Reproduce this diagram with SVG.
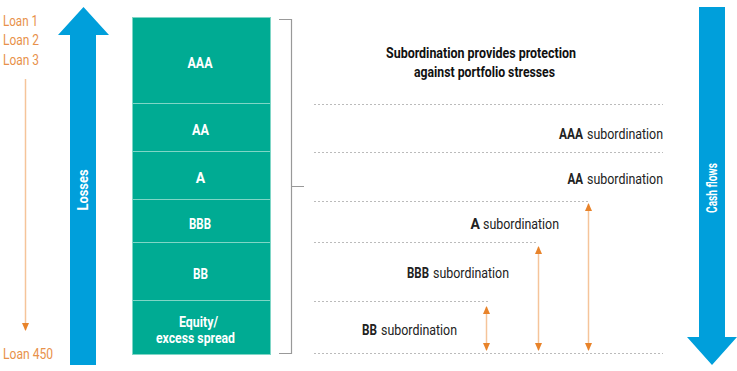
<svg xmlns="http://www.w3.org/2000/svg" width="737" height="371" viewBox="0 0 737 371">
<style>
.loan{font-family:Roboto,"Liberation Sans",sans-serif;font-size:14px;fill:#E8914A}
.tr{font-family:Roboto,"Liberation Sans",sans-serif;font-size:14px;font-weight:bold;fill:#fff;text-anchor:middle}
.lbl{font-family:Roboto,"Liberation Sans",sans-serif;font-size:14px;fill:#222;text-anchor:end}
.lb{font-family:Roboto,"Liberation Sans",sans-serif;font-size:14px;font-weight:bold;fill:#222;text-anchor:end}
.ttl{font-family:Roboto,"Liberation Sans",sans-serif;font-size:14.5px;font-weight:bold;fill:#111;text-anchor:middle}
.tranche{fill:#00AB93;stroke:#7FD6C6;stroke-width:1}
.dot{stroke:#BBBBBB;stroke-width:1;stroke-dasharray:2 2;fill:none}
.dim{stroke:#F5C49A;stroke-width:1.5;fill:none;marker-start:url(#ah);marker-end:url(#ah)}
.blue{fill:#009FDB}
.arrtxt{font-family:Roboto,"Liberation Sans",sans-serif;font-size:14px;font-weight:bold;fill:#fff;text-anchor:middle}
</style>
<defs>
<marker id="ah" viewBox="0 0 8 8" refX="7" refY="4" markerWidth="8" markerHeight="8" markerUnits="userSpaceOnUse" orient="auto-start-reverse">
<path d="M0,0.5 L8,4 L0,7.5 Z" fill="#E8832A"/>
</marker>
</defs>

<g id="loans">
<text class="loan" x="3" y="26" textLength="35" lengthAdjust="spacingAndGlyphs">Loan 1</text>
<text class="loan" x="3" y="45" textLength="36" lengthAdjust="spacingAndGlyphs">Loan 2</text>
<text class="loan" x="3" y="65" textLength="36" lengthAdjust="spacingAndGlyphs">Loan 3</text>
<text class="loan" x="3" y="359" textLength="50" lengthAdjust="spacingAndGlyphs">Loan 450</text>
</g>

<g id="losses-arrow">
<polygon class="blue" points="70,365 96,365 96,35 109,35 83.5,7 58,35 70,35"/>
<text class="arrtxt" transform="translate(88,190) rotate(-90)" textLength="41" lengthAdjust="spacingAndGlyphs">Losses</text>
</g>

<g id="cashflows-arrow">
<polygon class="blue" points="699,7 725,7 725,337 737,337 712,365 687,337 699,337"/>
<text class="arrtxt" transform="translate(717,188) rotate(-90)" textLength="50" lengthAdjust="spacingAndGlyphs">Cash flows</text>
</g>

<g id="tranche-AAA"><rect class="tranche" x="132.5" y="17.5" width="138" height="86"/><text class="tr" x="200" y="68" textLength="25" lengthAdjust="spacingAndGlyphs">AAA</text></g>
<g id="tranche-AA"><rect class="tranche" x="132.5" y="103.5" width="138" height="48"/><text class="tr" x="200.5" y="135" textLength="17" lengthAdjust="spacingAndGlyphs">AA</text></g>
<g id="tranche-A"><rect class="tranche" x="132.5" y="151.5" width="138" height="48"/><text class="tr" x="200.5" y="183">A</text></g>
<g id="tranche-BBB"><rect class="tranche" x="132.5" y="199.5" width="138" height="43"/><text class="tr" x="200" y="229" textLength="22" lengthAdjust="spacingAndGlyphs">BBB</text></g>
<g id="tranche-BB"><rect class="tranche" x="132.5" y="242.5" width="138" height="58"/><text class="tr" x="200.5" y="279" textLength="15" lengthAdjust="spacingAndGlyphs">BB</text></g>
<g id="tranche-Equity"><rect class="tranche" x="132.5" y="300.5" width="138" height="54"/><text class="tr" x="198.5" y="327" textLength="39" lengthAdjust="spacingAndGlyphs">Equity/</text><text class="tr" x="195.5" y="343" textLength="79" lengthAdjust="spacingAndGlyphs">excess spread</text></g>

<g id="title">
<text class="ttl" x="481" y="58" textLength="190" lengthAdjust="spacingAndGlyphs">Subordination provides protection</text>
<text class="ttl" x="484.5" y="77" textLength="141" lengthAdjust="spacingAndGlyphs">against portfolio stresses</text>
</g>

<g id="labels">
<g id="label-AAA"><text class="lb" x="583" y="139" textLength="24" lengthAdjust="spacingAndGlyphs">AAA</text><text class="lbl" x="663" y="139" textLength="76" lengthAdjust="spacingAndGlyphs">subordination</text></g>
<g id="label-AA"><text class="lb" x="583" y="184" textLength="15.5" lengthAdjust="spacingAndGlyphs">AA</text><text class="lbl" x="663" y="184" textLength="76" lengthAdjust="spacingAndGlyphs">subordination</text></g>
<g id="label-A"><text class="lb" x="480" y="229">A</text><text class="lbl" x="559" y="229" textLength="76" lengthAdjust="spacingAndGlyphs">subordination</text></g>
<g id="label-BBB"><text class="lb" x="429" y="278" textLength="22" lengthAdjust="spacingAndGlyphs">BBB</text><text class="lbl" x="509" y="278" textLength="76" lengthAdjust="spacingAndGlyphs">subordination</text></g>
<g id="label-BB"><text class="lb" x="377" y="335" textLength="15" lengthAdjust="spacingAndGlyphs">BB</text><text class="lbl" x="457" y="335" textLength="76" lengthAdjust="spacingAndGlyphs">subordination</text></g>
</g>

<g id="connectors">
<line x1="25.5" y1="79" x2="25.5" y2="330" stroke="#F5C49A" stroke-width="1.5" marker-end="url(#ah)"/>
<path d="M279,19.5 H291.5 V353.5 H279 M291.5,186.5 H304" stroke="#999" stroke-width="1.2" fill="none"/>
<line class="dot" x1="314" y1="104.5" x2="663" y2="104.5"/>
<line class="dot" x1="314" y1="152.5" x2="663" y2="152.5"/>
<line class="dot" x1="314" y1="201.5" x2="589" y2="201.5"/>
<line class="dot" x1="314" y1="242.5" x2="537" y2="242.5"/>
<line class="dot" x1="314" y1="301.5" x2="490" y2="301.5"/>
<line class="dot" x1="314" y1="353.5" x2="663" y2="353.5"/>
<line class="dim" x1="486.5" y1="307" x2="486.5" y2="350"/>
<line class="dim" x1="538.5" y1="247" x2="538.5" y2="350"/>
<line class="dim" x1="588.5" y1="204" x2="588.5" y2="350"/>
</g>
</svg>
